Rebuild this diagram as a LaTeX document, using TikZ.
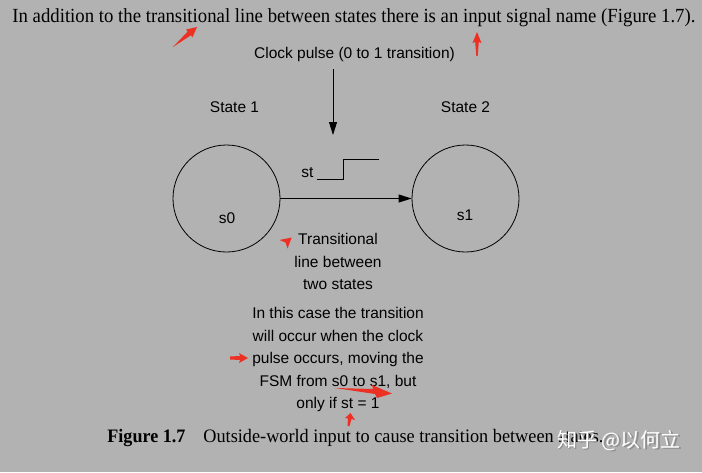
\documentclass[tikz,border=0pt]{standalone}
\usepackage{fontspec}
\setmainfont{Liberation Serif}
\setsansfont{Liberation Sans}
\newfontfamily\cjk{Noto Sans CJK SC}
\usetikzlibrary{arrows.meta}
\definecolor{bggray}{RGB}{178,178,178}
\definecolor{annred}{RGB}{236,48,36}

\begin{document}
\begin{tikzpicture}[x=1pt,y=-1pt,line width=0.8pt,
    state/.style={circle,draw,minimum size=107pt,inner sep=0pt},
    lbl/.style={font=\sffamily\fontsize{15.5}{22.5}\selectfont,inner sep=0pt},
    serif/.style={font=\fontsize{19}{19}\selectfont,inner sep=0pt,anchor=base west},
    redmark/.style={fill=annred,draw=none},
    >={Triangle[length=13pt,width=8pt]}]
  \fill[bggray] (0,0) rectangle (702,472);
  \useasboundingbox (0,0) rectangle (702,472);
  % text above the figure
  \node[serif] (intro) at (12,22.7) {\resizebox{683pt}{13.9pt}{In addition to the transitional line between states there is an input signal name (Figure 1.7).}};
  \node[lbl,anchor=base] (clk) at (354.5,58.5) {Clock pulse (0 to 1 transition)};
  \coordinate (clktop) at (333,69);
  \coordinate (clkend) at (333,135);
  \draw[->] (clktop) -- (clkend);
  % the two states
  \node[lbl] (lab1) at (234.5,107) {State 1};
  \node[lbl] (lab2) at (465.5,107) {State 2};
  \node[state] (S0) at (226.5,198.5) {};
  \node[state] (S1) at (465.5,198.5) {};
  \node[lbl] (s0) at (227,218) {s0};
  \node[lbl] (s1) at (465,215) {s1};
  \draw[->] (S0) -- (S1);
  \node[lbl,anchor=base] (stname) at (307.5,177.7) {st};
  \draw (stname.base east) ++(3.2,1.6) -| ++(26,-20) -- ++(35.6,0);
  % notes
  \node[lbl,align=center,anchor=north] (trans) at (338,233) {Transitional\\line between\\two states};
  \node[lbl,align=center,anchor=north] (note) at (338,307) {In this case the transition\\will occur when the clock\\pulse occurs, moving the\\FSM from s0 to s1, but\\only if st = 1};
  % caption
  \node[serif,font=\bfseries\fontsize{19}{19}\selectfont] (fig) at (107,442.7) {\resizebox{78pt}{13.2pt}{Figure 1.7}};
  \node[serif] (cap) at (203,442.7) {\resizebox{400pt}{13.2pt}{Outside-world input to cause transition between states.}};
  \node[font=\cjk\fontsize{20}{20}\selectfont,text=black!45,anchor=west,inner sep=0pt] (wmshadow) at (558.2,442.2) {知乎 @以何立};
  \node[font=\cjk\fontsize{20}{20}\selectfont,text=white,anchor=west,inner sep=0pt] (wm) at (557,441) {知乎 @以何立};
  % red marks
  \path[redmark] (173,47) -- (190.9,35.3) -- (192.5,37.3) -- (197,27) -- (186.1,29.5) -- (187.7,31.5) -- cycle;
  \path[redmark] (476.3,56) -- (477.7,56) -- (478.8,42) -- (481.5,43) -- (477,32) -- (472.5,43) -- (475.2,42) -- cycle;
  \path[redmark] (230,356.5) -- (240,356) -- (239,353) -- (248,358) -- (239,363) -- (240,360) -- (230,359.5) -- cycle;
  \path[redmark] (347.5,426) -- (349.5,426) -- (351.5,419) -- (355,420) -- (350.5,413) -- (345,418) -- (348,418.5) -- cycle;
  \path[redmark] (335,388) -- (373,389) -- (372,385) -- (392,393.5) -- (377,398) -- (375,394) -- cycle;
  \path[redmark] (279.5,240) -- (291.7,237.5) -- (287.5,248.5) -- (285.5,242.5) -- cycle;
\end{tikzpicture}
\end{document}
